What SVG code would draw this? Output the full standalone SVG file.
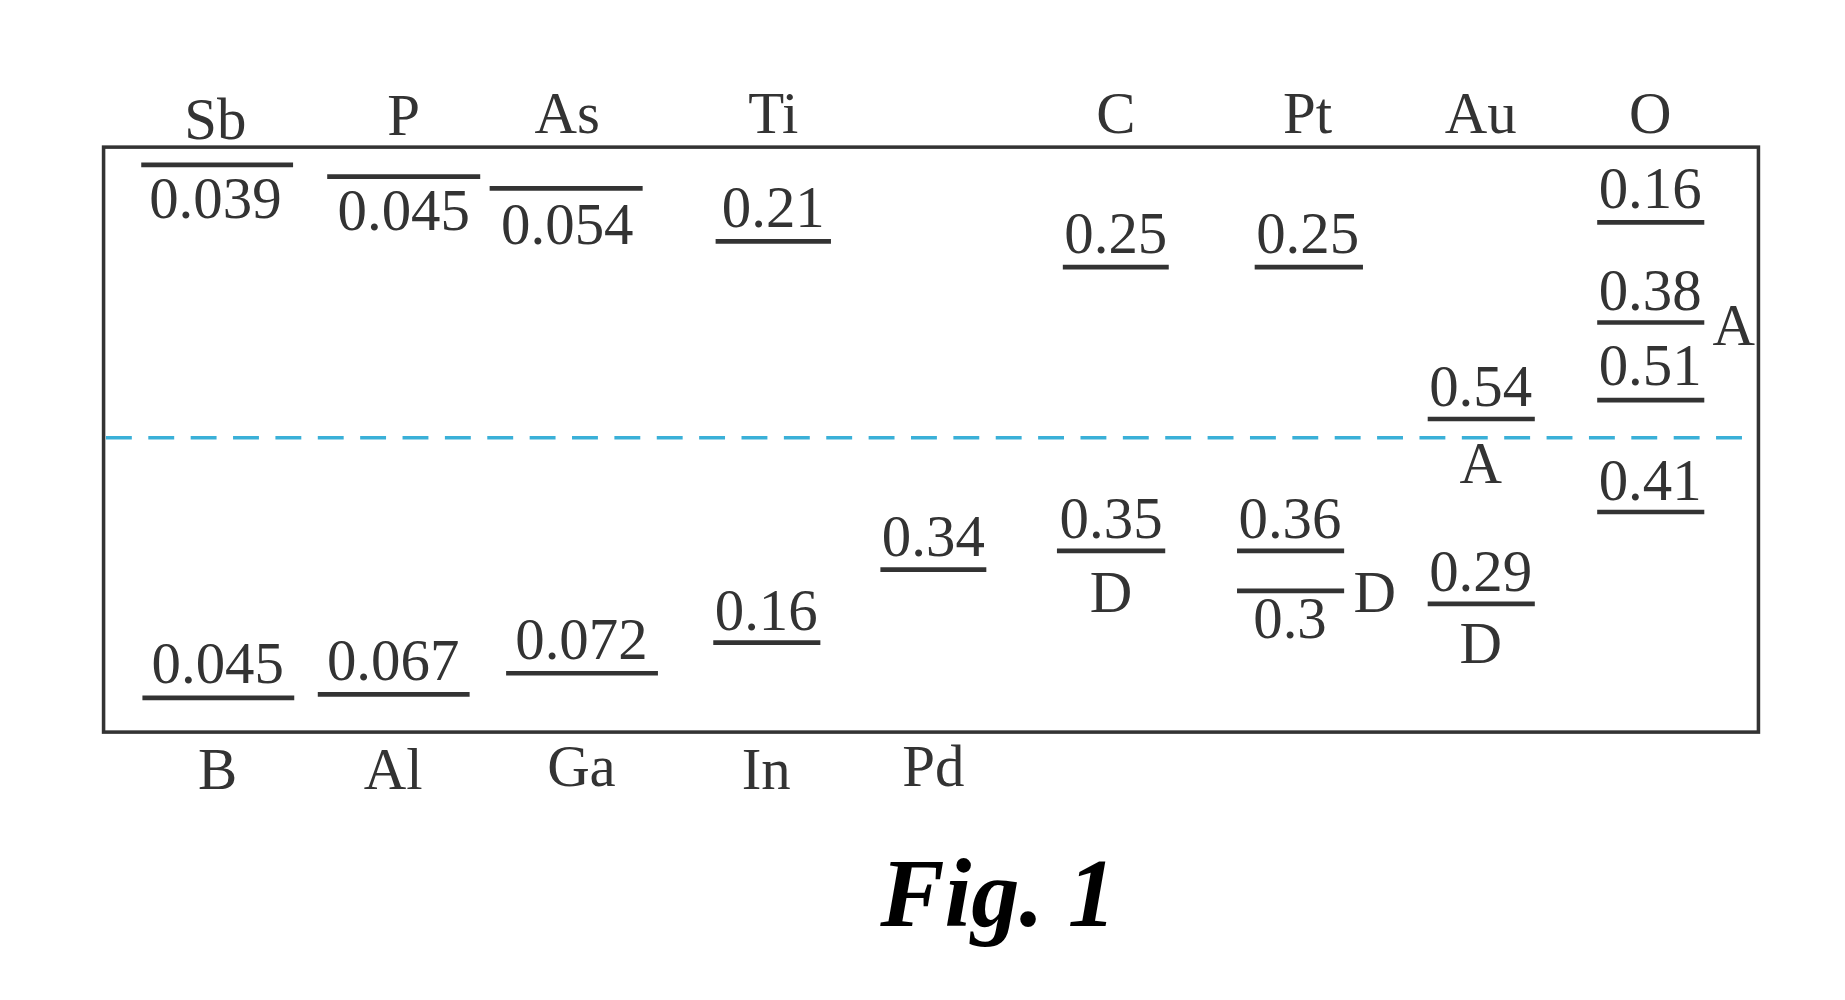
<svg xmlns="http://www.w3.org/2000/svg" width="1845" height="1000" viewBox="0 0 1845 1000">
<style>
text{font-family:"Liberation Serif","DejaVu Serif",serif;font-size:50px;fill:#333;text-anchor:middle}
.b{stroke:#333;stroke-width:4}
.fig{font-weight:bold;font-style:italic;font-size:82px;fill:#000}
</style>
<rect width="1845" height="1000" fill="#fff"/>
<g transform="scale(1.177)">
<g id="frame"><rect x="88" y="125" width="1406" height="497" fill="none" stroke="#333" stroke-width="3"/></g>
<g id="connectors"><line x1="90" y1="372" x2="1492" y2="372" stroke="#3ab0d8" stroke-width="3" stroke-dasharray="22,14"/></g>
<g id="Sb"><text x="183" y="118">Sb</text><line class="b" x1="120" y1="140" x2="249" y2="140"/><text x="183" y="185">0.039</text></g>
<g id="P"><text x="343" y="115">P</text><line class="b" x1="278" y1="150" x2="408" y2="150"/><text x="343" y="195">0.045</text></g>
<g id="As"><text x="482" y="113">As</text><line class="b" x1="416" y1="160" x2="546" y2="160"/><text x="482" y="207">0.054</text></g>
<g id="Ti"><text x="657" y="113">Ti</text><text x="657" y="193">0.21</text><line class="b" x1="608" y1="205" x2="706" y2="205"/></g>
<g id="C"><text x="948" y="113">C</text><text x="948" y="215">0.25</text><line class="b" x1="903" y1="227" x2="993" y2="227"/>
<text x="944" y="457">0.35</text><line class="b" x1="898" y1="468" x2="990" y2="468"/><text x="944" y="520">D</text></g>
<g id="Pt"><text x="1111" y="113">Pt</text><text x="1111" y="215">0.25</text><line class="b" x1="1066" y1="227" x2="1158" y2="227"/>
<text x="1096" y="457">0.36</text><line class="b" x1="1051" y1="468" x2="1142" y2="468"/><line class="b" x1="1051" y1="502" x2="1142" y2="502"/><text x="1096" y="542">0.3</text><text x="1168" y="520">D</text></g>
<g id="Au"><text x="1258" y="113">Au</text><text x="1258" y="345">0.54</text><line class="b" x1="1213" y1="356" x2="1304" y2="356"/><text x="1258" y="410">A</text>
<text x="1258" y="502">0.29</text><line class="b" x1="1213" y1="513" x2="1304" y2="513"/><text x="1258" y="563">D</text></g>
<g id="O"><text x="1402" y="113">O</text><text x="1402" y="177">0.16</text><line class="b" x1="1357" y1="189" x2="1448" y2="189"/>
<text x="1402" y="263">0.38</text><line class="b" x1="1357" y1="274" x2="1448" y2="274"/><text x="1402" y="327">0.51</text><line class="b" x1="1357" y1="340" x2="1448" y2="340"/><text x="1473" y="293">A</text>
<text x="1402" y="425">0.41</text><line class="b" x1="1357" y1="435" x2="1448" y2="435"/></g>
<g id="Pd"><text x="793" y="472">0.34</text><line class="b" x1="748" y1="484" x2="838" y2="484"/><text x="793" y="668">Pd</text></g>
<g id="In"><text x="651" y="535">0.16</text><line class="b" x1="606" y1="546" x2="697" y2="546"/><text x="651" y="670">In</text></g>
<g id="Ga"><text x="494" y="560">0.072</text><line class="b" x1="430" y1="572" x2="559" y2="572"/><text x="494" y="668">Ga</text></g>
<g id="Al"><text x="334" y="578">0.067</text><line class="b" x1="270" y1="590" x2="399" y2="590"/><text x="334" y="670">Al</text></g>
<g id="B"><text x="185" y="580">0.045</text><line class="b" x1="121" y1="593" x2="250" y2="593"/><text x="185" y="670">B</text></g>
<text class="fig" x="848" y="787">Fig. 1</text>
</g>
</svg>
